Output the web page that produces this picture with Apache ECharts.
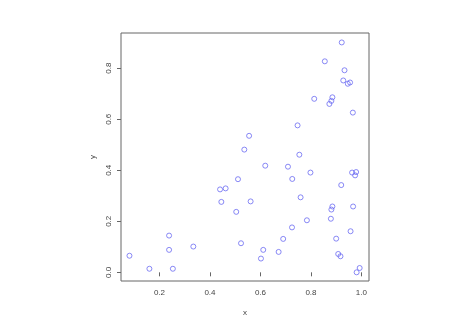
<!DOCTYPE html>
<html>
<head>
<meta charset="utf-8">
<script src="https://cdn.jsdelivr.net/npm/echarts@6/dist/echarts.min.js"></script>
<style>
  html, body { margin: 0; padding: 0; background: #fff; }
  #chart { width: 474px; height: 322px; }
</style>
</head>
<body>
<div id="chart"></div>
<script>
// points
const xValues = [
    0.922, 0.855, 0.933, 0.928, 0.946, 0.955, 0.813, 0.885, 0.881, 0.873,
    0.966, 0.747, 0.555, 0.536, 0.754, 0.619, 0.709, 0.963, 0.979, 0.975,
    0.798, 0.511, 0.726, 0.440, 0.462, 0.920, 0.445, 0.561, 0.759, 0.504,
    0.885, 0.881, 0.967, 0.879, 0.784, 0.725, 0.957, 0.238, 0.690, 0.900,
    0.523, 0.334, 0.238, 0.611, 0.672, 0.602, 0.908, 0.917, 0.081, 0.160,
    0.253, 0.993, 0.981
];
const yValues = [
    0.901, 0.827, 0.792, 0.752, 0.739, 0.744, 0.680, 0.686, 0.672, 0.660,
    0.626, 0.576, 0.535, 0.481, 0.461, 0.418, 0.414, 0.391, 0.393, 0.380,
    0.391, 0.365, 0.366, 0.325, 0.329, 0.342, 0.276, 0.278, 0.294, 0.237,
    0.258, 0.246, 0.258, 0.210, 0.204, 0.176, 0.161, 0.144, 0.131, 0.132,
    0.114, 0.101, 0.088, 0.088, 0.080, 0.054, 0.072, 0.063, 0.065, 0.014,
    0.014, 0.017, 0.000
];
const xTicks = [0.2, 0.4, 0.6, 0.8, 1.0];
const yTicks = [0.0, 0.2, 0.4, 0.6, 0.8];

const textColor = '#444';
const lineColor = '#666';
const font = '"Liberation Sans", Arial, sans-serif';

const points = xValues.map(function (x, i) {
    return [x, yValues[i]];
});

const chart = echarts.init(document.getElementById('chart'), null, { renderer: 'canvas' });
chart.setOption({
    animation: false,
    backgroundColor: '#fff',
    grid: {
        left: 121,
        right: 105,
        top: 33,
        bottom: 41,
        show: true,
        borderColor: lineColor,
        borderWidth: 1,
        backgroundColor: 'transparent'
    },
    xAxis: {
        type: 'value',
        min: 0.0475,
        max: 1.030,
        name: 'x',
        nameLocation: 'middle',
        nameGap: 28,
        nameTextStyle: { color: textColor, fontSize: 8, fontFamily: font },
        axisLine: { show: false },
        splitLine: { show: false },
        axisTick: {
            show: true,
            length: 4,
            customValues: xTicks,
            lineStyle: { color: lineColor }
        },
        axisLabel: {
            customValues: xTicks,
            margin: 8,
            color: textColor,
            fontSize: 8,
            fontFamily: font,
            formatter: function (v) { return v.toFixed(1); }
        }
    },
    yAxis: {
        type: 'value',
        min: -0.034,
        max: 0.938,
        name: 'y',
        nameLocation: 'middle',
        nameGap: 20,
        nameRotate: 90,
        nameTextStyle: { color: textColor, fontSize: 8, fontFamily: font },
        axisLine: { show: false },
        splitLine: { show: false },
        axisTick: {
            show: true,
            length: 4,
            customValues: yTicks,
            lineStyle: { color: lineColor }
        },
        axisLabel: {
            customValues: yTicks,
            rotate: 90,
            margin: 8,
            color: textColor,
            fontSize: 8,
            fontFamily: font,
            formatter: function (v) { return v.toFixed(1); }
        }
    },
    series: [{
        type: 'scatter',
        data: points,
        symbol: 'circle',
        symbolSize: 5,
        itemStyle: {
            color: 'transparent',
            borderColor: '#6b6bf2',
            borderWidth: 1
        }
    }]
});
</script>
</body>
</html>
